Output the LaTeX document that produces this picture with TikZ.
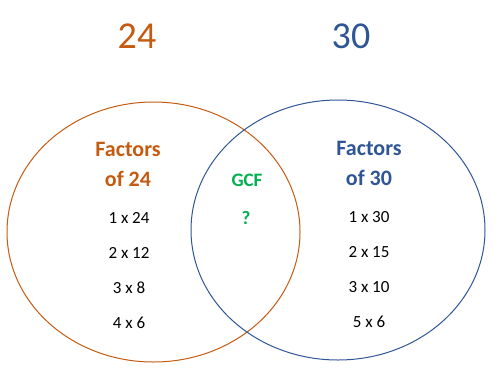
\documentclass[tikz,border=0pt]{standalone}
\usepackage{fontspec}
\setmainfont{Carlito}
\usepackage{tikz}
\usepackage{xcolor}
\usetikzlibrary{math}
\definecolor{chengse}{HTML}{C55A11}
\definecolor{lanse}{HTML}{2F5597}
\definecolor{lvse}{HTML}{00B050}

\begin{document}
\begin{tikzpicture}[x=1pt,y=-1pt] %y轴向下,单位和像素一样
        \useasboundingbox (0,0) rectangle (495,386);
        \tikzmath{ %两个圆的位置
            coordinate \zuo, \you;
            \zuo = (153.5,232);
            \you = (338,230);
        }
        \draw[chengse,line width=1pt] (\zuo) ellipse [x radius=146.5pt,y radius=130pt];
        \draw[lanse,line width=1pt] (\you) ellipse [x radius=147pt,y radius=130pt];
        \node[text=chengse,font=\fontsize{38}{40}\selectfont] (shu24) at (137,36) {24};
        \node[text=lanse,font=\fontsize{38}{40}\selectfont] (shu30) at (351,36) {30};
        \node[text=chengse,font=\fontsize{22}{30}\selectfont\bfseries,align=center] (yin24) at (128,164) {Factors\\of 24};
        \node[text=lanse,font=\fontsize{22}{30}\selectfont\bfseries,align=center] (yin30) at (369,163) {Factors\\of 30};
        \node[text=lvse,font=\fontsize{19}{22}\selectfont\bfseries] (gcf) at (247,180) {GCF};
        \node[text=lvse,font=\fontsize{19}{22}\selectfont\bfseries] (wen) at (246,218) {?};
        %因数列表,每行间隔35
        \foreach \t [count=\i] in {1 x 24,2 x 12,3 x 8,4 x 6}{
            \node[font=\fontsize{17}{20}\selectfont] (zuo\i) at (129,183+35*\i) {\t};
        }
        \foreach \t [count=\i] in {1 x 30,2 x 15,3 x 10,5 x 6}{
            \node[font=\fontsize{17}{20}\selectfont] (you\i) at (369,182+35*\i) {\t};
        }
    \end{tikzpicture}
\end{document}
